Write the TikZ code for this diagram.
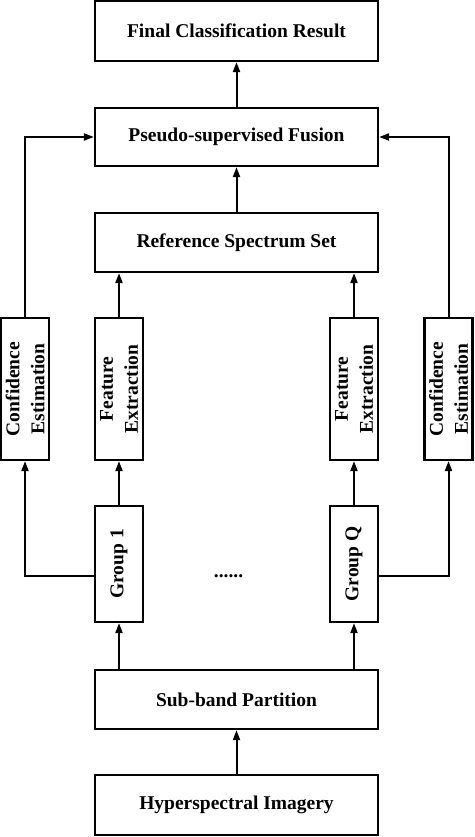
\documentclass[tikz,border=0pt]{standalone}
\usepackage{fontspec}
\setmainfont{Liberation Serif}
\usetikzlibrary{arrows.meta,calc}
\begin{document}
\begin{tikzpicture}[x=1pt,y=1pt,
  every node/.style={font=\fontsize{19.5}{25}\selectfont\bfseries},
  hbox/.style={draw,line width=2.2pt,minimum width=283pt,minimum height=58pt,inner sep=0pt,anchor=center},
  vbox/.style={draw,line width=2.2pt,minimum width=142pt,minimum height=48pt,inner sep=0pt,rotate=90,align=center},
  gbox/.style={draw,line width=2.2pt,minimum width=116pt,minimum height=48pt,inner sep=0pt,rotate=90},
  arr/.style={line width=2pt,-{Triangle[length=10pt,width=7pt]}}]
\useasboundingbox (0,0) rectangle (474,837);
\node[hbox,minimum height=60pt] (final) at (236.5,806) {Final Classification Result};
\node[hbox] (fusion) at (236.5,700) {Pseudo-supervised Fusion};
\node[hbox,minimum height=59pt] (ref) at (236.5,594.5) {Reference Spectrum Set};
\node[vbox] (ce1) at (25,448) {Confidence\\Estimation};
\node[vbox] (fe1) at (119,448) {Feature\\Extraction};
\node[vbox] (feq) at (354,448) {Feature\\Extraction};
\node[vbox] (ceq) at (448.5,448) {Confidence\\Estimation};
\node[gbox] (g1) at (119,273) {Group 1};
\node[gbox] (gq) at (354,273) {Group Q};
\node (dots) at (228.5,261) {......};
\node[hbox,minimum height=59pt] (sub) at (236.5,137.5) {Sub-band Partition};
\node[hbox,minimum height=60pt] (hyp) at (236.5,32) {Hyperspectral Imagery};
\draw[arr] (fusion.north) -- (final.south);
\draw[arr] (ref.north) -- (fusion.south);
\draw[arr] (fe1.east) -- (fe1.east |- ref.south);
\draw[arr] (feq.east) -- (feq.east |- ref.south);
\draw[arr] (ce1.east) |- (fusion.west);
\draw[arr] (ceq.east) |- (fusion.east);
\draw[arr] (g1.east) -- (fe1.west);
\draw[arr] (gq.east) -- (feq.west);
\coordinate (l1) at ($(g1.north)+(0,-12)$);
\coordinate (lq) at ($(gq.south)+(0,-12)$);
\draw[arr] (l1) -| (ce1.west);
\draw[arr] (lq) -| (ceq.west);
\draw[arr] (g1.west |- sub.north) -- (g1.west);
\draw[arr] (gq.west |- sub.north) -- (gq.west);
\draw[arr] (hyp.north) -- (sub.south);
\end{tikzpicture}
\end{document}
